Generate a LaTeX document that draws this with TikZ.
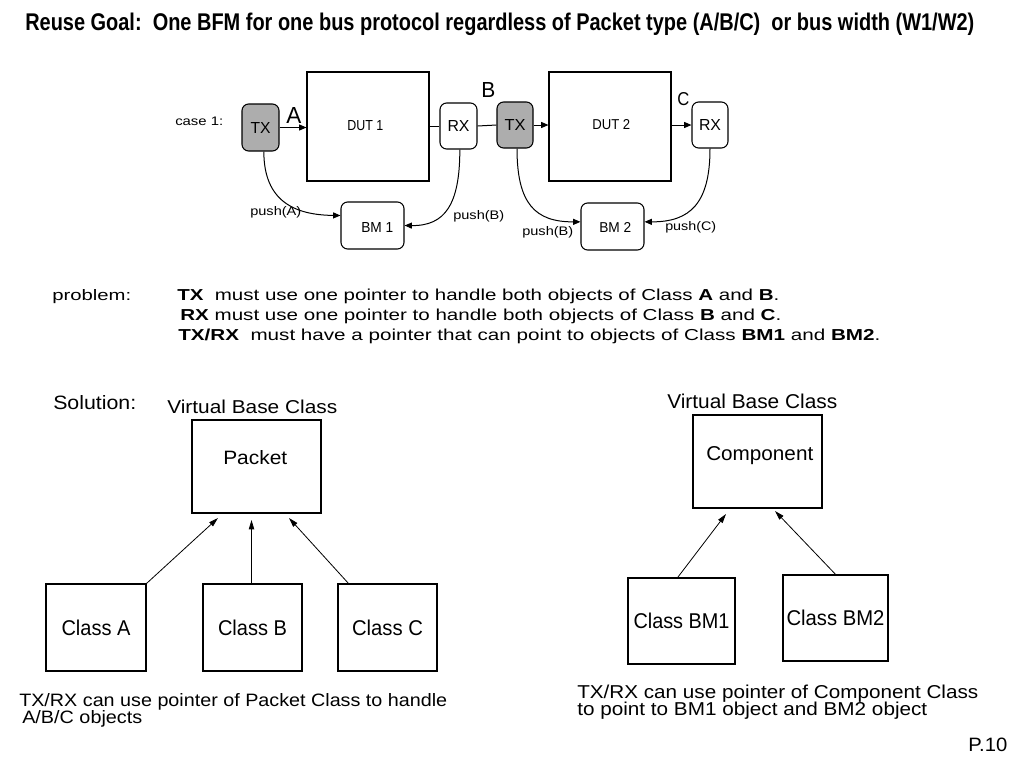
\documentclass[tikz,border=0pt]{standalone}
\usepackage{fontspec}
\setmainfont{Liberation Sans}
\usepackage{graphicx}
\usetikzlibrary{arrows.meta,calc}
\newlength\fw
\newlength\fh
\newcommand\fitt[3]{\setlength\fw{#1pt}\setlength\fw{0.75\fw}\setlength\fh{#2pt}\setlength\fh{0.75\fh}\resizebox{\fw}{\fh}{#3}}
\begin{document}
\begin{tikzpicture}[x=0.75pt,y=-0.75pt,
  txt/.style={inner sep=0pt,anchor=base west},
  rbox/.style={draw,line width=0.8pt,rounded corners=5pt,inner sep=0pt},
  gbox/.style={rbox,fill=black!32},
  sbox/.style={draw,line width=0.8pt,inner sep=0pt},
  cbox/.style={draw,line width=1pt,inner sep=0pt},
  flow/.style={line width=0.75pt,-{Triangle[length=5.5pt,width=4.5pt]}},
  plain/.style={line width=0.75pt},
  inh/.style={line width=0.6pt,-{Triangle[length=7pt,width=4pt]}}]
\useasboundingbox (0,0) rectangle (1024,768);
\fill[white] (0,0) rectangle (1024,768);

% title
\node[txt] (title) at (25,30) {\fitt{949}{17.5}{\bfseries Reuse Goal:\ \ One BFM for one bus protocol regardless of Packet type (A/B/C)\ \ or bus width (W1/W2)}};

% top diagram
\node[txt] (case) at (175,125) {\fitt{48}{8.5}{case 1:}};
\node[gbox,minimum width=27.75pt,minimum height=35.25pt] (tx1) at (260.5,127.5) {\fitt{20}{11}{TX}};
\node[sbox,minimum width=91.5pt,minimum height=81.75pt] (dut1) at (368,126.5) {};
\node[txt] (dut1t) at (347,130) {\fitt{36}{10}{DUT 1}};
\node[rbox,minimum width=27.75pt,minimum height=34.5pt] (rx1) at (458.5,126) {\fitt{22}{11}{RX}};
\node[gbox,minimum width=27pt,minimum height=34.5pt] (tx2) at (515,125) {\fitt{21}{11}{TX}};
\node[sbox,minimum width=91.5pt,minimum height=81.75pt] (dut2) at (610,126.5) {};
\node[txt] (dut2t) at (592,129) {\fitt{38}{10}{DUT 2}};
\node[rbox,minimum width=27pt,minimum height=34.5pt] (rx2) at (710,125) {\fitt{22}{11}{RX}};
\node[rbox,minimum width=47.25pt,minimum height=35.25pt] (bm1) at (372.5,225.5) {};
\node[txt] (bm1t) at (361,232) {\fitt{32}{10}{BM 1}};
\node[rbox,minimum width=47.25pt,minimum height=35.25pt] (bm2) at (612.5,226.5) {};
\node[txt] (bm2t) at (599,232) {\fitt{32}{10}{BM 2}};

\node[txt] (lA) at (286,123) {\fitt{15}{16}{A}};
\node[txt] (lB) at (481,97) {\fitt{14}{15}{B}};
\node[txt] (lC) at (677,105) {\fitt{12}{13}{C}};

\node[txt] (pA) at (250,215) {\fitt{51}{9}{push(A)}};
\node[txt] (pB1) at (453,219) {\fitt{51}{9}{push(B)}};
\node[txt] (pB2) at (522,235) {\fitt{51}{9}{push(B)}};
\node[txt] (pC) at (665,230) {\fitt{51}{9}{push(C)}};

\draw[flow] (tx1.east) -- (tx1.east -| dut1.west);
\draw[plain] (dut1.east |- rx1.west) -- (rx1.west);
\draw[plain] (rx1.east) -- (tx2.west);
\draw[flow] (tx2.east) -- (tx2.east -| dut2.west);
\draw[flow] (dut2.east |- rx2.west) -- (rx2.west);

\draw[flow] ([xshift=2.5pt]tx1.south) .. controls ($([xshift=2.5pt]tx1.south)+(0,50)$) and (295,215) .. ([yshift=7.5pt]bm1.west);
\draw[flow] ([xshift=1pt]rx1.south) .. controls ($([xshift=1pt]rx1.south)+(0,55)$) and (445,226) .. (bm1.east);
\draw[flow] ([xshift=1.5pt]tx2.south) .. controls ($([xshift=1.5pt]tx2.south)+(0,55)$) and (535,222) .. ([yshift=3.5pt]bm2.west);
\draw[flow] (rx2.south) .. controls ($(rx2.south)+(0,55)$) and (690,222) .. ([yshift=3.5pt]bm2.east);

% problem text
\node[txt] (prob) at (52,300) {\fitt{79}{11}{problem:}};
\node[txt] (p1) at (177,300) {\fitt{602}{11.5}{\textbf{TX}\ \ must use one pointer to handle both objects of Class \textbf{A} and \textbf{B}.}};
\node[txt] (p2) at (180,320) {\fitt{601}{11.5}{\textbf{RX} must use one pointer to handle both objects of Class \textbf{B} and \textbf{C}.}};
\node[txt] (p3) at (178,340) {\fitt{702}{11.5}{\textbf{TX/RX}\ \ must have a pointer that can point to objects of Class \textbf{BM1} and \textbf{BM2}.}};

% solution left
\node[txt] (sol) at (53,409) {\fitt{83}{14}{Solution:}};
\node[txt] (vb1) at (167,413) {\fitt{170}{13.5}{Virtual Base Class}};
\node[cbox,minimum width=96.75pt,minimum height=69.75pt] (packet) at (256.5,466.5) {};
\node[txt] (packt) at (223,464) {\fitt{64}{14}{Packet}};
\node[cbox,minimum width=75pt,minimum height=65.25pt] (ca) at (96,627.5) {\fitt{69}{15.5}{Class A}};
\node[cbox,minimum width=74.25pt,minimum height=65.25pt] (cb) at (252.5,627.5) {\fitt{69}{15.5}{Class B}};
\node[cbox,minimum width=74.25pt,minimum height=65.25pt] (cc) at (387.5,627.5) {\fitt{71}{15.5}{Class C}};
\coordinate (ta) at (218,518);
\coordinate (tb) at (251.5,520);
\coordinate (tc) at (289,518);
\coordinate (sc) at (349,584);
\draw[inh] (ca.north east) -- (ta);
\draw[inh] (ca.north east -| tb) -- (tb);
\draw[inh] (sc) -- (tc);
\node[txt] (cap1) at (19,706) {\fitt{428}{13}{TX/RX can use pointer of Packet Class to handle}};
\node[txt] (cap2) at (22,723) {\fitt{120}{13}{A/B/C objects}};

% solution right
\node[txt] (vb2) at (667,408) {\fitt{170}{14.5}{Virtual Base Class}};
\node[cbox,minimum width=96.75pt,minimum height=69.75pt] (comp) at (757.5,461.5) {};
\node[txt] (compt) at (706,460) {\fitt{107}{14}{Component}};
\node[cbox,minimum width=80.25pt,minimum height=64.5pt] (cbm1) at (681.5,621) {\fitt{96}{15.5}{Class BM1}};
\node[cbox,minimum width=78.75pt,minimum height=64.5pt] (cbm2) at (835.5,618) {\fitt{98}{15.5}{Class BM2}};
\coordinate (t1) at (726,514);
\coordinate (t2) at (775,511);
\coordinate (s1) at (678,577);
\draw[inh] (s1) -- (t1);
\draw[inh] (cbm2.north) -- (t2);
\node[txt] (cap3) at (577,698) {\fitt{401}{13.5}{TX/RX can use pointer of Component Class}};
\node[txt] (cap4) at (577,715) {\fitt{350}{13.5}{to point to BM1 object and BM2 object}};
\node[txt] (pnum) at (968,751) {\fitt{39}{13.5}{P.10}};
\end{tikzpicture}
\end{document}
